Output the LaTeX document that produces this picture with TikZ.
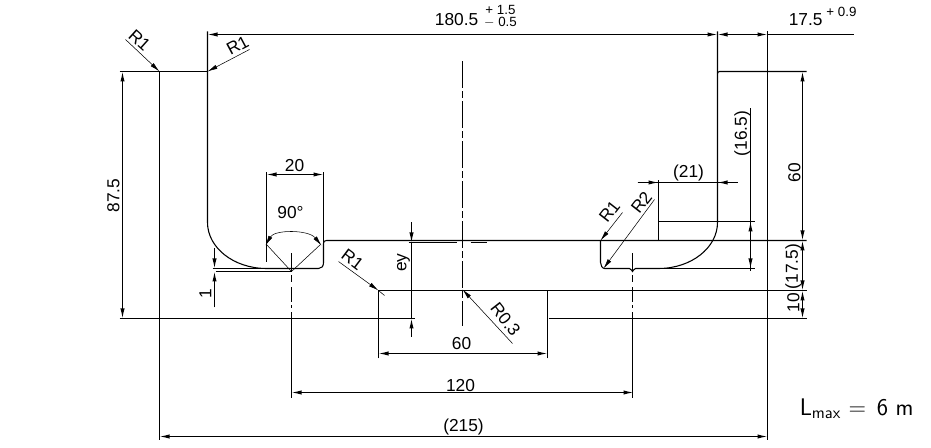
\documentclass[tikz,border=0pt]{standalone}
\usepackage{fontspec}
\setmainfont{Liberation Sans}
\setsansfont{Latin Modern Sans}
\usetikzlibrary{arrows.meta}
\tikzset{
  >={Latex[length=7.5pt,width=3.2pt]},
  edge/.style={line width=0.8pt},
  thinleader/.style={line width=0.4pt},
  dimtext/.style={inner sep=0pt,font=\fontsize{13}{15}\selectfont},
  tol/.style={inner sep=0pt,font=\fontsize{10}{11}\selectfont},
  axisline/.style={line width=0.8pt,dash pattern=on 20pt off 2.5pt on 5pt off 2.5pt}
}
\begin{document}
\begin{tikzpicture}[x=0.75pt,y=-0.75pt]
\useasboundingbox (0,0) rectangle (931,448);
\begin{scope}[shift={(0.5,0.5)}]

% Profiel
\draw[edge] (207,31) -- (207,222) .. controls (207,247) and (233,268) .. (266,268) -- (318,268)
  .. controls (321,268) and (323,266) .. (323,262) -- (323,243) .. controls (323,241) and (324,240) .. (326,240) -- (806,240);
\draw[edge] (717,31) -- (717,222) .. controls (717,247) and (691,268) .. (658,268) -- (635,268)
  .. controls (633,268) and (633,271) .. (632,271) .. controls (631,271) and (631,268) .. (629,268) -- (604,268)
  .. controls (602,268) and (600,265) .. (600,262) -- (600,240);
\draw[edge] (119,71) -- (207,71);
\draw[edge] (717,73) .. controls (717,72) and (718,71) .. (719,71) -- (806,71);
\draw[edge] (378,358) -- (378,290) -- (806,290);
\draw[edge] (547,358) -- (547,290);
\draw[edge] (119,318) -- (414,318);
\draw[edge] (548,318) -- (806,318);
\draw[edge] (159,71) -- (159,440);
\draw[edge] (767,31) -- (767,440);
\draw[edge] (212,268) -- (266,268);
\draw[edge] (215,271) -- (291,271);
\draw[edge] (408,242) -- (456,242);
\draw[edge] (470,242) -- (486,242);

% Hartlijnen
\draw[axisline] (462,61) -- (462,326);
\foreach \xa in {291,632} {
  \foreach \ya/\yb in {253/271,275/282,287/302,305/308,312/398}
    \draw[edge] (\xa,\ya) -- (\xa,\yb);
}

% Maatlijnen boven
\draw[edge,<->] (207,34) -- (717,34);
\draw[edge,<-] (717,34) -- (732,34);
\draw[edge,->] (732,34) -- (767,34);
\draw[edge] (767,34) -- (853,34);
\node[dimtext,anchor=base east] (boxwidth) at (478,25) {180.5};
\node[tol] (boxplus) at (500,9) {+ 1.5};
\node[tol] (boxminus) at (500,22) {$-$ 0.5};
\node[dimtext,anchor=base west] (flange) at (788,25) {17.5};
\node[tol] (flangeplus) at (841,11) {+ 0.9};

% Hoogte links
\draw[edge,<->] (122,71) -- (122,318);
\node[dimtext,rotate=90] (height) at (113,195) {87.5};

% Groef links
\draw[edge] (266,172) -- (266,262);
\draw[edge] (323,172) -- (323,243);
\draw[edge,<->] (266,174) -- (323,174);
\node[dimtext] (groovewidth) at (294,165) {20};
\node[dimtext] (grooveangle) at (290,212) {90°};
\draw[thinleader] (266,244) -- (291,271) -- (320,244);
\draw[thinleader,<->] (265,245) .. controls (274,229) and (308,229) .. (321,245);
\draw[edge,->] (214,248) -- (214,268);
\draw[edge,->] (214,307) -- (214,271);
\node[dimtext,rotate=90] (lip) at (205,293) {1};

% Radii
\draw[thinleader,->] (125,39) -- (159,71);
\node[dimtext,rotate=-42] (rtop) at (139,40) {R1};
\draw[thinleader,->] (249,49) -- (207,71);
\node[dimtext,rotate=28] (rinner) at (237,45) {R1};
\draw[thinleader,->] (338,261) -- (378,290);
\draw[thinleader] (378,290) -- (384,295);
\node[dimtext,rotate=-37] (rslot) at (352,259) {R1};
\draw[thinleader,->] (512,343) -- (462,289);
\node[dimtext,rotate=-52] (rmid) at (505,319) {R0.3};
\draw[thinleader,->] (622,212) -- (600,240);
\node[dimtext,rotate=52] (rright) at (609,211) {R1};
\draw[thinleader,->] (654,199) -- (603,268);
\node[dimtext,rotate=52] (rtwo) at (641,202) {R2};

% Maat ey
\draw[edge,->] (411,222) -- (411,242);
\draw[edge] (411,242) -- (411,318);
\draw[edge,<-] (411,318) -- (411,337);
\node[dimtext,rotate=90] (ey) at (403,262) {ey};

% Sleuf
\draw[edge,<->] (378,353) -- (547,353);
\node[dimtext] (slotwidth) at (461,343) {60};

% Onder
\draw[edge,<->] (291,392) -- (633,392);
\node[dimtext] (pitch) at (460,385) {120};
\draw[edge,<->] (159,436) -- (767,436);
\node[dimtext] (total) at (463,427) {(215)};

% Groef rechts
\draw[edge] (658,180) -- (658,240);
\draw[edge] (658,221) -- (754,221);
\draw[edge] (658,268) -- (754,268);
\draw[edge] (637,182) -- (737,182);
\draw[edge,->] (637,182) -- (658,182);
\draw[edge,->] (737,182) -- (717,182);
\node[dimtext] (rightwidth) at (688,173) {(21)};
\draw[edge] (750,108) -- (750,271);
\draw[edge,->] (750,240) -- (750,221);
\draw[edge,->] (750,240) -- (750,268);
\node[dimtext,rotate=90] (upper) at (742,133) {(16.5)};

% Maten rechts
\draw[edge,<->] (802,71) -- (802,240);
\draw[edge,<->] (802,240) -- (802,290);
\draw[edge,<->] (802,290) -- (802,318);
\node[dimtext,rotate=90] (webheight) at (794,172) {60};
\node[dimtext,rotate=90] (lower) at (793,266) {(17.5)};
\node[dimtext,rotate=90] (foot) at (793,302) {10};

% Lengte
\node[anchor=base west,inner sep=0pt,font=\fontsize{18}{21}\selectfont\sffamily] (lmax) at (799,415) {L\textsubscript{max} =\hspace{0.45em}6 m};
\end{scope}
\end{tikzpicture}
\end{document}
